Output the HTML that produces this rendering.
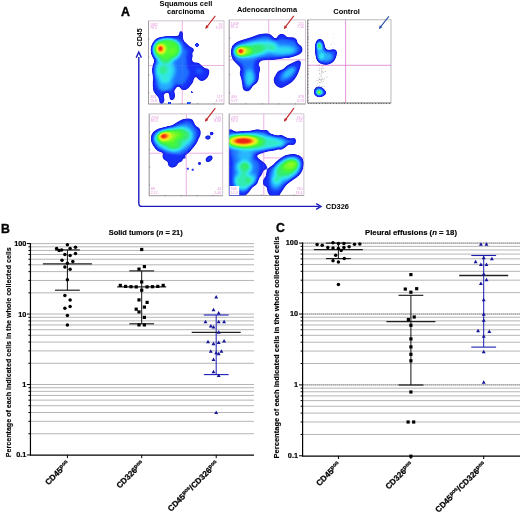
<!DOCTYPE html>
<html><head><meta charset="utf-8"><title>Figure</title>
<style>html,body{margin:0;padding:0;background:#fff}svg{display:block}</style></head>
<body>
<svg width="520" height="516" viewBox="0 0 520 516">
<rect width="520" height="516" fill="#fff"/>
<g id="panelA">
<defs>
<filter id="jet" x="-5%" y="-5%" width="110%" height="110%" color-interpolation-filters="sRGB">
<feColorMatrix in="SourceGraphic" type="matrix" values="0 0 0 1 0  0 0 0 1 0  0 0 0 1 0  0 0 0 0 1" result="g"/>
<feComponentTransfer in="g" result="col">
<feFuncR type="table" tableValues="0.071 0.073 0.075 0.076 0.078 0.081 0.083 0.085 0.088 0.090 0.092 0.095 0.101 0.107 0.113 0.120 0.131 0.142 0.153 0.165 0.179 0.193 0.196 0.196 0.196 0.224 0.252 0.301 0.436 0.571 0.706 0.820 0.935 0.985 0.993 0.996 0.976 0.956 0.931 0.907 0.882"/>
<feFuncG type="table" tableValues="0.071 0.073 0.075 0.076 0.078 0.096 0.113 0.130 0.148 0.165 0.182 0.210 0.278 0.347 0.416 0.486 0.562 0.638 0.715 0.783 0.846 0.909 0.922 0.922 0.922 0.943 0.964 0.980 0.980 0.980 0.980 0.956 0.931 0.838 0.699 0.549 0.353 0.188 0.145 0.102 0.059"/>
<feFuncB type="table" tableValues="0.784 0.809 0.833 0.858 0.882 0.897 0.911 0.926 0.940 0.954 0.969 0.981 0.986 0.991 0.996 1.000 1.000 1.000 1.000 0.983 0.955 0.927 0.793 0.632 0.471 0.373 0.275 0.191 0.167 0.142 0.118 0.118 0.118 0.108 0.092 0.078 0.078 0.077 0.071 0.065 0.059"/>
</feComponentTransfer>
<feComponentTransfer in="SourceGraphic" result="m"><feFuncA type="linear" slope="14" intercept="-1.0"/></feComponentTransfer>
<feComposite in="col" in2="m" operator="in"/>
</filter>
<filter id="b0" x="-50%" y="-50%" width="200%" height="200%" color-interpolation-filters="sRGB"><feGaussianBlur stdDeviation="0.45"/></filter>
<filter id="b1" x="-50%" y="-50%" width="200%" height="200%" color-interpolation-filters="sRGB"><feGaussianBlur stdDeviation="0.8"/></filter>
<filter id="b2" x="-50%" y="-50%" width="200%" height="200%" color-interpolation-filters="sRGB"><feGaussianBlur stdDeviation="1.4"/></filter>
<filter id="b3" x="-50%" y="-50%" width="200%" height="200%" color-interpolation-filters="sRGB"><feGaussianBlur stdDeviation="2.2"/></filter>
<filter id="b4" x="-50%" y="-50%" width="200%" height="200%" color-interpolation-filters="sRGB"><feGaussianBlur stdDeviation="3.2"/></filter>
<filter id="b5" x="-50%" y="-50%" width="200%" height="200%" color-interpolation-filters="sRGB"><feGaussianBlur stdDeviation="4.5"/></filter>
</defs>
<clipPath id="cp1"><rect x="148.5" y="20.9" width="75.5" height="83.1"/></clipPath>
<rect x="148.5" y="20.9" width="75.5" height="83.1" fill="#fff" stroke="#c4b4c4" stroke-width="0.8"/>
<g stroke="#e79ae0" stroke-width="0.7"><line x1="148.5" y1="65.5" x2="224.0" y2="65.5"/><line x1="182.3" y1="20.9" x2="182.3" y2="104.0"/></g>
<path d="M148.5 20.9L148.5 104.0L224.0 104.0" fill="none" stroke="#8c8c8c" stroke-width="0.7"/>
<g clip-path="url(#cp1)"><g filter="url(#jet)">
<path d="M153.8 42.4C154.6 41.2 155.2 39.7 156.5 38.9C157.8 38.1 159.7 37.9 161.7 37.5C163.7 37.2 166.3 37.0 168.7 36.8C171.0 36.6 173.9 36.5 175.6 36.3C177.4 36.1 178.5 36.2 179.1 35.4C179.8 34.7 179.2 32.7 179.5 31.9C179.8 31.2 180.3 31.0 180.9 31.1C181.4 31.1 182.3 31.4 182.6 32.3C182.9 33.2 182.5 34.9 182.6 36.3C182.7 37.7 182.7 39.4 183.5 40.7C184.2 42.0 185.9 43.1 187.0 44.1C188.0 45.2 188.6 46.0 189.6 46.8C190.6 47.5 192.3 47.8 193.1 48.5C193.8 49.2 194.2 50.4 193.9 51.1C193.7 51.8 191.9 52.1 191.7 52.9C191.5 53.6 192.7 54.5 192.7 55.5C192.7 56.5 191.6 57.8 191.7 59.0C191.7 60.1 192.0 61.8 193.1 62.4C194.2 63.1 196.8 62.4 198.3 63.0C199.7 63.5 200.6 65.0 201.8 65.9C202.9 66.9 204.2 68.1 205.3 68.5C206.4 69.0 207.8 68.3 208.4 68.9C209.0 69.5 209.2 70.8 209.1 72.0C209.0 73.3 208.7 75.1 207.9 76.4C207.1 77.7 205.5 79.1 204.4 79.9C203.2 80.6 201.9 80.9 200.9 80.7C199.9 80.6 199.0 79.7 198.3 79.0C197.6 78.3 197.3 76.5 196.5 76.4C195.8 76.2 194.6 77.1 193.9 78.1C193.3 79.1 193.3 81.3 192.7 82.5C192.1 83.6 191.1 84.2 190.4 85.1C189.8 86.0 189.6 86.9 188.7 87.7C187.8 88.5 186.4 89.5 185.2 89.8C184.1 90.1 182.6 90.0 181.7 89.5C180.9 89.0 180.7 87.4 180.0 86.8C179.3 86.3 178.1 85.7 177.4 86.0C176.6 86.3 176.2 87.8 175.6 88.6C175.0 89.4 174.0 89.8 173.9 90.9C173.7 91.9 174.8 93.3 174.8 94.7C174.8 96.1 174.6 98.2 173.9 99.0C173.2 99.9 171.1 100.5 170.4 99.9C169.7 99.3 169.8 96.9 169.5 95.6C169.2 94.3 169.2 92.7 168.7 92.1C168.1 91.5 166.9 91.6 166.0 92.1C165.2 92.5 163.7 93.4 163.4 94.7C163.1 96.0 164.4 98.5 164.3 99.9C164.2 101.4 163.3 102.9 162.6 103.4C161.8 103.9 160.5 103.9 159.9 103.1C159.4 102.2 159.7 99.6 159.1 98.2C158.5 96.8 157.3 95.9 156.5 94.7C155.6 93.5 154.4 92.9 153.8 91.2C153.3 89.5 153.1 86.6 153.0 84.2C152.9 81.9 153.4 79.6 153.3 77.3C153.3 74.9 152.6 72.3 152.6 70.3C152.6 68.3 153.0 66.7 153.3 65.1C153.7 63.5 154.8 62.2 154.7 60.7C154.7 59.2 153.5 57.9 153.0 56.3C152.4 54.7 151.7 52.9 151.6 51.1C151.4 49.4 151.7 47.3 152.1 45.9C152.5 44.4 153.1 43.6 153.8 42.4Z" fill="#fff" fill-opacity="0.26" filter="url(#b1)"/>
<ellipse cx="196.9" cy="45.0" rx="1.74" ry="1.74" fill="#fff" fill-opacity="0.3" filter="url(#b0)"/>
<ellipse cx="191.7" cy="92.1" rx="0.87" ry="0.87" fill="#fff" fill-opacity="0.35" filter="url(#b0)"/>
<ellipse cx="169.5" cy="102.9" rx="1.22" ry="1.22" fill="#fff" fill-opacity="0.35" filter="url(#b0)"/>
<ellipse cx="188.7" cy="102.9" rx="1.92" ry="1.05" fill="#fff" fill-opacity="0.35" filter="url(#b0)"/>
<path d="M154.7 44.1C155.9 41.9 158.2 40.2 161.7 39.3C165.2 38.3 172.4 38.3 175.6 38.6C178.8 38.8 179.4 39.1 180.9 40.7C182.3 42.2 183.4 44.7 184.3 47.6C185.3 50.5 186.0 54.9 186.4 58.1C186.9 61.3 186.4 64.5 187.0 66.8C187.5 69.1 189.4 70.3 189.6 72.0C189.7 73.8 188.6 75.5 187.8 77.3C187.1 79.0 186.4 81.2 185.2 82.5C184.1 83.8 182.5 84.8 180.9 85.1C179.3 85.4 177.4 83.5 175.6 84.2C173.9 85.0 172.4 88.3 170.4 89.5C168.4 90.6 165.5 91.5 163.4 91.2C161.4 90.9 159.5 89.8 158.2 87.7C156.9 85.7 156.0 81.9 155.6 79.0C155.2 76.1 155.4 73.2 155.6 70.3C155.7 67.4 156.6 64.5 156.5 61.6C156.3 58.7 155.0 55.8 154.7 52.9C154.4 50.0 153.6 46.4 154.7 44.1Z" fill="#fff" fill-opacity="0.14" filter="url(#b2)"/>
<ellipse cx="199.2" cy="71.2" rx="3.83" ry="2.79" fill="#fff" fill-opacity="0.1" filter="url(#b2)"/>
<ellipse cx="186.4" cy="52.0" rx="2.44" ry="3.14" fill="#fff" fill-opacity="0.08" filter="url(#b2)"/>
<ellipse cx="166.6" cy="50.2" rx="14.81" ry="12.55" fill="#fff" fill-opacity="0.25" filter="url(#b2)"/>
<ellipse cx="164.8" cy="70.3" rx="10.11" ry="12.20" fill="#fff" fill-opacity="0.25" filter="url(#b3)"/>
<ellipse cx="165.2" cy="85.1" rx="7.84" ry="6.97" fill="#fff" fill-opacity="0.12" filter="url(#b3)"/>
<ellipse cx="166.9" cy="49.0" rx="13.25" ry="10.11" fill="#fff" fill-opacity="0.27" filter="url(#b2)"/>
<ellipse cx="163.1" cy="69.9" rx="4.88" ry="4.88" fill="#fff" fill-opacity="0.15" filter="url(#b3)"/>
<ellipse cx="167.3" cy="49.4" rx="10.81" ry="7.84" fill="#fff" fill-opacity="0.06" filter="url(#b2)"/>
<ellipse cx="172.1" cy="51.5" rx="3.83" ry="3.49" fill="#fff" fill-opacity="0.08" filter="url(#b2)"/>
<ellipse cx="161.0" cy="49.0" rx="5.23" ry="5.40" fill="#fff" fill-opacity="0.4" filter="url(#b2)"/>
<ellipse cx="160.5" cy="48.7" rx="2.79" ry="3.14" fill="#fff" fill-opacity="0.5" filter="url(#b1)"/>
<ellipse cx="160.3" cy="48.5" rx="1.22" ry="1.57" fill="#fff" fill-opacity="0.7" filter="url(#b1)"/>
</g></g>
<g stroke="#e79ae0" stroke-width="0.6" stroke-opacity="0.15"><line x1="148.5" y1="65.5" x2="224.0" y2="65.5"/><line x1="182.3" y1="20.9" x2="182.3" y2="104.0"/></g>
<text x="150.1" y="25.5" text-anchor="start" font-family="Liberation Sans, Arial, sans-serif" font-size="3.6" fill="#d86cd0" fill-opacity="0.75">1882</text><text x="150.1" y="29.4" text-anchor="start" font-family="Liberation Sans, Arial, sans-serif" font-size="3.6" fill="#d86cd0" fill-opacity="0.75">78.5</text>
<text x="222.6" y="25.5" text-anchor="end" font-family="Liberation Sans, Arial, sans-serif" font-size="3.6" fill="#d86cd0" fill-opacity="0.75">76</text><text x="222.6" y="29.4" text-anchor="end" font-family="Liberation Sans, Arial, sans-serif" font-size="3.6" fill="#d86cd0" fill-opacity="0.75">3.59</text>
<text x="150.1" y="98.4" text-anchor="start" font-family="Liberation Sans, Arial, sans-serif" font-size="3.6" fill="#d86cd0" fill-opacity="0.75">364</text><text x="150.1" y="102.3" text-anchor="start" font-family="Liberation Sans, Arial, sans-serif" font-size="3.6" fill="#d86cd0" fill-opacity="0.75">15.8</text>
<text x="222.6" y="98.4" text-anchor="end" font-family="Liberation Sans, Arial, sans-serif" font-size="3.6" fill="#d86cd0" fill-opacity="0.75">117</text><text x="222.6" y="102.3" text-anchor="end" font-family="Liberation Sans, Arial, sans-serif" font-size="3.6" fill="#d86cd0" fill-opacity="0.75">4.78</text>
<line x1="148.3" y1="39.0" x2="149.7" y2="39.0" stroke="#777" stroke-width="0.5"/>
<line x1="164.9" y1="103.0" x2="164.9" y2="104.4" stroke="#777" stroke-width="0.5"/>
<line x1="148.3" y1="57.0" x2="149.7" y2="57.0" stroke="#777" stroke-width="0.5"/>
<line x1="181.3" y1="103.0" x2="181.3" y2="104.4" stroke="#777" stroke-width="0.5"/>
<line x1="148.3" y1="75.1" x2="149.7" y2="75.1" stroke="#777" stroke-width="0.5"/>
<line x1="197.7" y1="103.0" x2="197.7" y2="104.4" stroke="#777" stroke-width="0.5"/>
<line x1="148.3" y1="93.2" x2="149.7" y2="93.2" stroke="#777" stroke-width="0.5"/>
<line x1="214.2" y1="103.0" x2="214.2" y2="104.4" stroke="#777" stroke-width="0.5"/>
<line x1="215.3" y1="15.9" x2="206.0" y2="28.0" stroke="#c02626" stroke-width="1.1"/>
<path d="M205.3 29.0L206.2 25.1L208.8 27.1Z" fill="#c02626"/>
<clipPath id="cp2"><rect x="229.2" y="19.9" width="76.19999999999999" height="84.1"/></clipPath>
<rect x="229.2" y="19.9" width="76.19999999999999" height="84.1" fill="#fff" stroke="#c4b4c4" stroke-width="0.8"/>
<g stroke="#e79ae0" stroke-width="0.7"><line x1="229.2" y1="59.8" x2="305.4" y2="59.8"/><line x1="268.7" y1="19.9" x2="268.7" y2="104.0"/></g>
<path d="M229.2 19.9L229.2 104.0L305.4 104.0" fill="none" stroke="#8c8c8c" stroke-width="0.7"/>
<g clip-path="url(#cp2)"><g filter="url(#jet)">
<path d="M231.6 50.2C231.7 48.4 231.8 47.2 232.6 45.9C233.4 44.6 234.7 43.4 236.5 42.4C238.3 41.4 240.8 40.7 243.4 39.8C246.0 38.9 249.5 38.0 252.1 37.2C254.8 36.3 256.8 35.1 259.1 34.6C261.4 34.0 264.2 33.7 266.1 33.7C268.0 33.7 269.1 33.8 270.4 34.6C271.8 35.3 272.9 37.3 273.9 38.0C274.9 38.8 275.8 39.4 276.5 38.9C277.3 38.5 277.4 36.2 278.3 35.4C279.2 34.6 280.6 34.0 281.8 34.0C282.9 34.0 284.4 34.8 285.3 35.4C286.1 36.0 285.7 37.2 287.0 37.5C288.3 37.9 291.5 37.1 293.1 37.5C294.7 37.9 295.9 38.7 296.6 39.8C297.3 40.9 296.7 43.1 297.5 44.1C298.2 45.2 300.1 44.9 300.9 45.9C301.8 46.9 302.5 48.9 302.3 50.2C302.2 51.6 301.2 52.9 300.1 53.7C299.0 54.6 297.3 54.9 295.7 55.5C294.1 56.1 292.2 56.8 290.5 57.2C288.7 57.6 287.3 57.4 285.3 57.7C283.2 58.0 280.6 58.6 278.3 59.0C276.0 59.3 273.3 59.7 271.3 59.8C269.3 60.0 267.8 59.7 266.1 59.8C264.3 60.0 262.2 60.0 260.9 60.7C259.6 61.4 258.4 62.9 258.2 64.2C258.1 65.5 259.9 66.9 260.0 68.5C260.1 70.1 259.1 71.9 258.8 73.8C258.5 75.7 258.8 78.3 258.2 79.9C257.7 81.5 256.6 82.5 255.6 83.4C254.6 84.2 253.0 84.1 252.1 85.1C251.3 86.1 251.3 88.4 250.4 89.5C249.5 90.5 248.1 91.2 246.9 91.2C245.8 91.2 244.2 90.6 243.4 89.5C242.7 88.3 242.8 86.0 242.6 84.2C242.3 82.5 242.1 80.7 241.7 79.0C241.3 77.3 240.1 75.5 239.9 73.8C239.8 72.0 241.1 70.0 240.8 68.5C240.5 67.1 239.2 66.2 238.2 65.1C237.2 63.9 235.7 62.9 234.7 61.6C233.7 60.3 232.6 59.1 232.1 57.2C231.6 55.3 231.5 52.1 231.6 50.2Z" fill="#fff" fill-opacity="0.26" filter="url(#b1)"/>
<path d="M275.7 75.5C276.4 74.2 277.0 72.2 278.3 71.2C279.6 70.1 282.1 70.3 283.5 69.4C285.0 68.5 285.5 66.9 287.0 65.9C288.5 64.9 290.5 64.2 292.2 63.3C294.0 62.4 296.1 61.0 297.5 60.7C298.9 60.4 300.2 60.6 300.6 61.6C301.0 62.6 300.5 65.1 300.1 66.8C299.7 68.5 299.1 70.3 298.3 72.0C297.6 73.8 296.7 75.7 295.7 77.3C294.7 78.9 293.7 80.3 292.2 81.6C290.8 82.9 288.7 84.1 287.0 85.1C285.3 86.1 283.2 87.4 281.8 87.7C280.3 88.0 279.4 87.6 278.3 86.8C277.1 86.1 275.5 84.7 274.8 83.4C274.1 82.1 273.8 80.3 273.9 79.0C274.1 77.7 274.9 76.8 275.7 75.5Z" fill="#fff" fill-opacity="0.26" filter="url(#b1)"/>
<path d="M233.8 50.2C234.1 47.6 235.2 45.9 238.2 44.1C241.3 42.4 247.5 41.1 252.1 39.8C256.8 38.5 262.6 36.2 266.1 36.3C269.6 36.4 270.4 40.2 273.1 40.7C275.7 41.1 278.3 38.8 281.8 38.9C285.3 39.1 291.1 39.8 294.0 41.5C296.9 43.3 299.5 47.2 299.2 49.4C298.9 51.6 295.7 53.4 292.2 54.6C288.7 55.8 282.9 56.2 278.3 56.7C273.6 57.2 268.1 57.2 264.3 57.7C260.6 58.3 257.4 57.7 255.6 59.8C253.9 61.9 254.0 67.1 253.9 70.3C253.7 73.5 255.6 76.1 254.8 79.0C253.9 81.9 250.3 86.8 248.7 87.7C247.1 88.6 245.9 86.6 245.2 84.2C244.4 81.9 244.7 77.0 244.3 73.8C243.9 70.6 243.9 67.4 242.6 65.1C241.3 62.7 237.9 62.3 236.5 59.8C235.0 57.4 233.6 52.9 233.8 50.2Z" fill="#fff" fill-opacity="0.14" filter="url(#b2)"/>
<ellipse cx="287.9" cy="73.8" rx="10.46" ry="4.88" fill="#fff" fill-opacity="0.16" filter="url(#b2)" transform="rotate(-40 287.9 73.8)"/>
<ellipse cx="288.7" cy="72.9" rx="6.97" ry="3.14" fill="#fff" fill-opacity="0.14" filter="url(#b2)" transform="rotate(-40 288.7 72.9)"/>
<ellipse cx="255.6" cy="49.0" rx="21.79" ry="6.97" fill="#fff" fill-opacity="0.3" filter="url(#b3)" transform="rotate(-12 255.6 49.0)"/>
<ellipse cx="282.6" cy="50.2" rx="13.07" ry="4.53" fill="#fff" fill-opacity="0.24" filter="url(#b3)"/>
<ellipse cx="249.5" cy="78.1" rx="4.88" ry="8.37" fill="#fff" fill-opacity="0.22" filter="url(#b3)"/>
<ellipse cx="249.5" cy="50.2" rx="15.69" ry="6.27" fill="#fff" fill-opacity="0.12" filter="url(#b3)" transform="rotate(-8 249.5 50.2)"/>
<ellipse cx="243.1" cy="51.1" rx="9.06" ry="5.58" fill="#fff" fill-opacity="0.27" filter="url(#b2)"/>
<ellipse cx="241.3" cy="51.1" rx="4.88" ry="4.18" fill="#fff" fill-opacity="0.4" filter="url(#b2)"/>
<ellipse cx="240.6" cy="51.1" rx="2.61" ry="2.61" fill="#fff" fill-opacity="0.5" filter="url(#b1)"/>
<ellipse cx="240.5" cy="51.1" rx="1.22" ry="1.39" fill="#fff" fill-opacity="0.7" filter="url(#b1)"/>
</g></g>
<g stroke="#e79ae0" stroke-width="0.6" stroke-opacity="0.15"><line x1="229.2" y1="59.8" x2="305.4" y2="59.8"/><line x1="268.7" y1="19.9" x2="268.7" y2="104.0"/></g>
<text x="230.8" y="24.5" text-anchor="start" font-family="Liberation Sans, Arial, sans-serif" font-size="3.6" fill="#d86cd0" fill-opacity="0.75">1609</text><text x="230.8" y="28.4" text-anchor="start" font-family="Liberation Sans, Arial, sans-serif" font-size="3.6" fill="#d86cd0" fill-opacity="0.75">81.0</text>
<text x="304.0" y="24.5" text-anchor="end" font-family="Liberation Sans, Arial, sans-serif" font-size="3.6" fill="#d86cd0" fill-opacity="0.75">151</text><text x="304.0" y="28.4" text-anchor="end" font-family="Liberation Sans, Arial, sans-serif" font-size="3.6" fill="#d86cd0" fill-opacity="0.75">7.56</text>
<text x="230.8" y="98.4" text-anchor="start" font-family="Liberation Sans, Arial, sans-serif" font-size="3.6" fill="#d86cd0" fill-opacity="0.75">400</text><text x="230.8" y="102.3" text-anchor="start" font-family="Liberation Sans, Arial, sans-serif" font-size="3.6" fill="#d86cd0" fill-opacity="0.75">3.77</text>
<text x="304.0" y="98.4" text-anchor="end" font-family="Liberation Sans, Arial, sans-serif" font-size="3.6" fill="#d86cd0" fill-opacity="0.75">378</text><text x="304.0" y="102.3" text-anchor="end" font-family="Liberation Sans, Arial, sans-serif" font-size="3.6" fill="#d86cd0" fill-opacity="0.75">4.73</text>
<line x1="229.0" y1="38.2" x2="230.39999999999998" y2="38.2" stroke="#777" stroke-width="0.5"/>
<line x1="245.8" y1="103.0" x2="245.8" y2="104.4" stroke="#777" stroke-width="0.5"/>
<line x1="229.0" y1="56.5" x2="230.39999999999998" y2="56.5" stroke="#777" stroke-width="0.5"/>
<line x1="262.3" y1="103.0" x2="262.3" y2="104.4" stroke="#777" stroke-width="0.5"/>
<line x1="229.0" y1="74.7" x2="230.39999999999998" y2="74.7" stroke="#777" stroke-width="0.5"/>
<line x1="278.9" y1="103.0" x2="278.9" y2="104.4" stroke="#777" stroke-width="0.5"/>
<line x1="229.0" y1="93.0" x2="230.39999999999998" y2="93.0" stroke="#777" stroke-width="0.5"/>
<line x1="295.5" y1="103.0" x2="295.5" y2="104.4" stroke="#777" stroke-width="0.5"/>
<line x1="293.8" y1="15.9" x2="284.5" y2="28.2" stroke="#c02626" stroke-width="1.1"/>
<path d="M283.8 29.2L284.7 25.3L287.3 27.3Z" fill="#c02626"/>
<clipPath id="cp3"><rect x="307.7" y="19.8" width="83.30000000000001" height="83.2"/></clipPath>
<rect x="307.7" y="19.8" width="83.30000000000001" height="83.2" fill="#fff" stroke="#a8a8a8" stroke-width="0.8"/>
<g stroke="#d86cd0" stroke-width="0.7"><line x1="307.7" y1="65.3" x2="391.0" y2="65.3"/><line x1="345.6" y1="19.8" x2="345.6" y2="103.0"/></g>
<path d="M307.7 19.8L307.7 103.0L391.0 103.0" fill="none" stroke="#7a7a7a" stroke-width="0.8"/>
<g clip-path="url(#cp3)"><g filter="url(#jet)">
<path d="M316.3 42.8C316.8 41.3 317.3 39.9 318.3 39.4C319.2 38.9 321.2 39.2 322.1 40.0C323.1 40.7 323.6 42.4 324.0 43.8C324.5 45.2 324.2 47.5 325.0 48.6C325.8 49.7 327.4 50.4 328.8 50.5C330.3 50.7 332.4 49.4 333.7 49.6C334.9 49.7 336.2 50.2 336.5 51.5C336.9 52.8 336.2 55.5 335.6 57.3C334.9 59.0 334.1 60.9 332.7 62.1C331.2 63.3 328.8 64.1 326.9 64.4C325.0 64.6 322.7 64.3 321.2 63.6C319.6 62.9 318.5 61.7 317.7 60.2C316.9 58.6 316.7 56.3 316.3 54.4C316.0 52.5 315.8 50.5 315.8 48.6C315.8 46.7 315.9 44.4 316.3 42.8Z" fill="#fff" fill-opacity="0.3" filter="url(#b1)"/>
<ellipse cx="320.2" cy="52.5" rx="3.85" ry="8.65" fill="#fff" fill-opacity="0.2" filter="url(#b2)"/>
<ellipse cx="326.0" cy="56.7" rx="6.73" ry="4.81" fill="#fff" fill-opacity="0.2" filter="url(#b2)"/>
<ellipse cx="319.2" cy="45.7" rx="2.31" ry="3.46" fill="#fff" fill-opacity="0.3" filter="url(#b2)"/>
<ellipse cx="318.8" cy="44.8" rx="1.35" ry="1.73" fill="#fff" fill-opacity="0.3" filter="url(#b1)"/>
<ellipse cx="319.2" cy="46.7" rx="1.92" ry="3.08" fill="#fff" fill-opacity="0.1" filter="url(#b2)"/>
<path d="M314.4 91.9C314.4 90.7 315.0 88.8 315.8 88.0C316.6 87.2 318.1 87.0 319.2 87.1C320.4 87.2 321.6 87.7 322.7 88.6C323.8 89.6 325.9 91.7 326.0 92.8C326.0 94.0 324.2 95.1 323.1 95.7C322.0 96.4 320.4 96.8 319.2 96.7C318.0 96.6 316.6 96.1 315.8 95.3C315.0 94.5 314.4 93.1 314.4 91.9Z" fill="#fff" fill-opacity="0.32" filter="url(#b1)"/>
<ellipse cx="319.2" cy="92.1" rx="3.08" ry="2.69" fill="#fff" fill-opacity="0.4" filter="url(#b2)"/>
<ellipse cx="319.2" cy="92.3" rx="1.73" ry="1.54" fill="#fff" fill-opacity="0.5" filter="url(#b1)"/>
<ellipse cx="319.0" cy="92.3" rx="0.77" ry="0.77" fill="#fff" fill-opacity="0.4" filter="url(#b0)"/>
</g></g>
<g stroke="#e79ae0" stroke-width="0.6" stroke-opacity="0.15"><line x1="307.7" y1="65.3" x2="391.0" y2="65.3"/><line x1="345.6" y1="19.8" x2="345.6" y2="103.0"/></g>
<line x1="307.5" y1="37.9" x2="308.9" y2="37.9" stroke="#777" stroke-width="0.5"/>
<line x1="325.8" y1="102.0" x2="325.8" y2="103.4" stroke="#777" stroke-width="0.5"/>
<line x1="307.5" y1="56.0" x2="308.9" y2="56.0" stroke="#777" stroke-width="0.5"/>
<line x1="343.9" y1="102.0" x2="343.9" y2="103.4" stroke="#777" stroke-width="0.5"/>
<line x1="307.5" y1="74.1" x2="308.9" y2="74.1" stroke="#777" stroke-width="0.5"/>
<line x1="362.0" y1="102.0" x2="362.0" y2="103.4" stroke="#777" stroke-width="0.5"/>
<line x1="307.5" y1="92.1" x2="308.9" y2="92.1" stroke="#777" stroke-width="0.5"/>
<line x1="380.1" y1="102.0" x2="380.1" y2="103.4" stroke="#777" stroke-width="0.5"/>
<line x1="388.8" y1="16.3" x2="379.6" y2="28.2" stroke="#2a52a8" stroke-width="1.1"/>
<path d="M378.9 29.2L379.8 25.3L382.4 27.3Z" fill="#2a52a8"/>
<clipPath id="cp4"><rect x="149.2" y="113.9" width="73.5" height="81.79999999999998"/></clipPath>
<rect x="149.2" y="113.9" width="73.5" height="81.79999999999998" fill="#fff" stroke="#c4b4c4" stroke-width="0.8"/>
<g stroke="#e79ae0" stroke-width="0.7"><line x1="149.2" y1="153.2" x2="222.7" y2="153.2"/><line x1="186.3" y1="113.9" x2="186.3" y2="195.7"/></g>
<path d="M149.2 113.9L149.2 195.7L222.7 195.7" fill="none" stroke="#8c8c8c" stroke-width="0.7"/>
<g clip-path="url(#cp4)"><g filter="url(#jet)">
<path d="M151.2 137.9C151.4 136.1 151.8 134.1 153.0 132.7C154.1 131.2 156.2 130.0 158.2 129.2C160.2 128.3 162.8 128.0 165.2 127.4C167.5 126.8 170.1 126.6 172.1 125.7C174.2 124.8 175.6 123.2 177.4 122.2C179.1 121.2 180.9 120.2 182.6 119.6C184.3 119.0 186.2 118.7 187.8 118.7C189.4 118.7 191.2 118.9 192.2 119.6C193.2 120.3 193.3 121.9 193.9 123.1C194.5 124.2 194.9 125.8 195.7 126.6C196.4 127.3 197.6 126.8 198.3 127.4C199.0 128.0 199.7 128.9 200.0 130.0C200.4 131.2 200.7 132.9 200.4 134.4C200.1 135.9 198.9 137.3 198.3 138.8C197.6 140.2 197.4 141.7 196.5 143.1C195.7 144.6 194.2 146.0 193.1 147.5C191.9 148.9 190.7 150.7 189.6 151.8C188.4 153.0 187.1 153.6 186.1 154.4C185.1 155.3 184.2 155.9 183.5 157.1C182.7 158.2 182.6 160.5 181.7 161.4C180.9 162.3 179.1 161.6 178.2 162.3C177.4 163.0 177.5 164.9 176.5 165.8C175.5 166.6 173.5 167.5 172.1 167.5C170.8 167.5 169.4 166.8 168.7 165.8C167.9 164.8 168.5 162.4 167.8 161.4C167.1 160.4 165.2 160.5 164.3 159.7C163.4 158.8 162.7 157.3 162.6 156.2C162.4 155.0 164.2 153.6 163.4 152.7C162.7 151.8 159.7 151.8 158.2 151.0C156.7 150.1 155.7 148.8 154.7 147.5C153.7 146.2 152.7 144.7 152.1 143.1C151.5 141.5 151.1 139.6 151.2 137.9Z" fill="#fff" fill-opacity="0.26" filter="url(#b1)"/>
<ellipse cx="207.9" cy="137.5" rx="2.37" ry="1.32" fill="#fff" fill-opacity="0.5" filter="url(#b1)"/>
<ellipse cx="211.7" cy="133.5" rx="1.32" ry="1.32" fill="#fff" fill-opacity="0.5" filter="url(#b1)"/>
<ellipse cx="204.0" cy="131.8" rx="0.71" ry="0.71" fill="#fff" fill-opacity="0.5" filter="url(#b1)"/>
<ellipse cx="199.5" cy="163.5" rx="1.15" ry="1.15" fill="#fff" fill-opacity="0.5" filter="url(#b1)"/>
<ellipse cx="187.8" cy="168.7" rx="0.98" ry="0.98" fill="#fff" fill-opacity="0.5" filter="url(#b1)"/>
<ellipse cx="192.7" cy="169.8" rx="0.98" ry="0.98" fill="#fff" fill-opacity="0.5" filter="url(#b1)"/>
<ellipse cx="185.2" cy="157.9" rx="0.80" ry="0.80" fill="#fff" fill-opacity="0.5" filter="url(#b1)"/>
<ellipse cx="209.1" cy="158.8" rx="3.83" ry="2.27" fill="#fff" fill-opacity="0.3" filter="url(#b1)" transform="rotate(-40 209.1 158.8)"/>
<path d="M153.8 137.9C154.4 135.3 156.6 132.7 159.9 130.9C163.3 129.2 169.8 128.9 173.9 127.4C178.0 126.0 181.4 122.9 184.3 122.2C187.2 121.5 189.3 121.6 191.3 123.1C193.3 124.5 195.8 128.2 196.5 130.9C197.3 133.7 196.8 136.7 195.7 139.6C194.5 142.5 192.0 145.9 189.6 148.3C187.1 150.8 183.8 153.6 180.9 154.4C178.0 155.3 175.0 154.2 172.1 153.6C169.2 153.0 166.0 152.1 163.4 151.0C160.8 149.8 158.1 148.8 156.5 146.6C154.9 144.4 153.3 140.5 153.8 137.9Z" fill="#fff" fill-opacity="0.14" filter="url(#b2)"/>
<ellipse cx="175.6" cy="138.8" rx="17.43" ry="10.81" fill="#fff" fill-opacity="0.3" filter="url(#b3)" transform="rotate(-15 175.6 138.8)"/>
<ellipse cx="174.8" cy="146.9" rx="7.32" ry="4.88" fill="#fff" fill-opacity="0.2" filter="url(#b3)"/>
<ellipse cx="183.5" cy="132.7" rx="7.84" ry="6.97" fill="#fff" fill-opacity="0.12" filter="url(#b3)"/>
<ellipse cx="168.7" cy="137.0" rx="14.81" ry="7.84" fill="#fff" fill-opacity="0.22" filter="url(#b3)" transform="rotate(-10 168.7 137.0)"/>
<ellipse cx="166.0" cy="136.5" rx="10.81" ry="5.75" fill="#fff" fill-opacity="0.28" filter="url(#b3)" transform="rotate(-8 166.0 136.5)"/>
<ellipse cx="164.3" cy="136.1" rx="6.27" ry="3.83" fill="#fff" fill-opacity="0.4" filter="url(#b2)" transform="rotate(-8 164.3 136.1)"/>
<ellipse cx="163.8" cy="136.1" rx="3.83" ry="2.44" fill="#fff" fill-opacity="0.5" filter="url(#b2)" transform="rotate(-8 163.8 136.1)"/>
<ellipse cx="163.4" cy="136.1" rx="2.09" ry="1.39" fill="#fff" fill-opacity="0.6" filter="url(#b1)" transform="rotate(-8 163.4 136.1)"/>
</g></g>
<g stroke="#e79ae0" stroke-width="0.6" stroke-opacity="0.15"><line x1="149.2" y1="153.2" x2="222.7" y2="153.2"/><line x1="186.3" y1="113.9" x2="186.3" y2="195.7"/></g>
<text x="150.8" y="118.5" text-anchor="start" font-family="Liberation Sans, Arial, sans-serif" font-size="3.6" fill="#d86cd0" fill-opacity="0.75">2592</text><text x="150.8" y="122.4" text-anchor="start" font-family="Liberation Sans, Arial, sans-serif" font-size="3.6" fill="#d86cd0" fill-opacity="0.75">89.5</text>
<text x="221.3" y="118.5" text-anchor="end" font-family="Liberation Sans, Arial, sans-serif" font-size="3.6" fill="#d86cd0" fill-opacity="0.75">245</text><text x="221.3" y="122.4" text-anchor="end" font-family="Liberation Sans, Arial, sans-serif" font-size="3.6" fill="#d86cd0" fill-opacity="0.75">8.69</text>
<text x="150.8" y="190.1" text-anchor="start" font-family="Liberation Sans, Arial, sans-serif" font-size="3.6" fill="#d86cd0" fill-opacity="0.75">88</text><text x="150.8" y="194.0" text-anchor="start" font-family="Liberation Sans, Arial, sans-serif" font-size="3.6" fill="#d86cd0" fill-opacity="0.75">2.12</text>
<text x="221.3" y="190.1" text-anchor="end" font-family="Liberation Sans, Arial, sans-serif" font-size="3.6" fill="#d86cd0" fill-opacity="0.75">44</text><text x="221.3" y="194.0" text-anchor="end" font-family="Liberation Sans, Arial, sans-serif" font-size="3.6" fill="#d86cd0" fill-opacity="0.75">1.06</text>
<line x1="149.0" y1="131.7" x2="150.39999999999998" y2="131.7" stroke="#777" stroke-width="0.5"/>
<line x1="165.2" y1="194.7" x2="165.2" y2="196.1" stroke="#777" stroke-width="0.5"/>
<line x1="149.0" y1="149.5" x2="150.39999999999998" y2="149.5" stroke="#777" stroke-width="0.5"/>
<line x1="181.2" y1="194.7" x2="181.2" y2="196.1" stroke="#777" stroke-width="0.5"/>
<line x1="149.0" y1="167.2" x2="150.39999999999998" y2="167.2" stroke="#777" stroke-width="0.5"/>
<line x1="197.1" y1="194.7" x2="197.1" y2="196.1" stroke="#777" stroke-width="0.5"/>
<line x1="149.0" y1="185.0" x2="150.39999999999998" y2="185.0" stroke="#777" stroke-width="0.5"/>
<line x1="213.1" y1="194.7" x2="213.1" y2="196.1" stroke="#777" stroke-width="0.5"/>
<line x1="215.3" y1="108.1" x2="205.6" y2="120.8" stroke="#c02626" stroke-width="1.1"/>
<path d="M204.9 121.8L205.8 117.9L208.4 119.9Z" fill="#c02626"/>
<clipPath id="cp5"><rect x="229.2" y="113.9" width="74.69999999999999" height="81.5"/></clipPath>
<rect x="229.2" y="113.9" width="74.69999999999999" height="81.5" fill="#fff" stroke="#c4b4c4" stroke-width="0.8"/>
<g stroke="#e79ae0" stroke-width="0.7"><line x1="229.2" y1="153.2" x2="263.8" y2="153.2"/><line x1="263.8" y1="157.9" x2="303.9" y2="157.9"/><line x1="263.8" y1="113.9" x2="263.8" y2="195.4"/></g>
<path d="M229.2 113.9L229.2 195.4L303.9 195.4" fill="none" stroke="#8c8c8c" stroke-width="0.7"/>
<g clip-path="url(#cp5)"><g filter="url(#jet)">
<path d="M227.7 134.4C229.2 123.8 233.6 133.1 236.5 132.7C239.4 132.2 242.6 132.1 245.2 131.8C247.8 131.5 250.1 131.3 252.1 130.9C254.2 130.5 255.6 129.6 257.4 129.5C259.1 129.5 261.0 130.5 262.6 130.6C264.2 130.7 265.8 129.5 267.0 130.0C268.1 130.5 268.0 132.5 269.6 133.5C271.2 134.5 274.5 135.9 276.5 136.1C278.6 136.4 280.2 135.0 281.8 135.3C283.4 135.6 284.5 137.3 286.1 137.9C287.7 138.5 289.9 138.8 291.4 138.8C292.8 138.8 294.1 137.3 294.8 137.9C295.6 138.5 296.0 141.1 295.7 142.2C295.4 143.4 294.3 144.6 293.1 144.9C291.9 145.1 290.1 143.7 288.7 144.0C287.4 144.3 286.6 145.7 285.3 146.6C284.0 147.5 282.1 149.1 280.9 149.2C279.7 149.4 279.3 147.5 278.3 147.5C277.3 147.5 276.3 148.8 274.8 149.2C273.3 149.7 271.3 149.7 269.6 150.1C267.8 150.5 265.9 151.2 264.3 151.8C262.7 152.4 261.3 152.8 260.0 153.6C258.7 154.3 256.4 155.0 256.5 156.2C256.6 157.3 259.4 159.2 260.9 160.5C262.3 161.9 264.2 162.7 265.2 164.0C266.2 165.3 267.2 167.4 267.0 168.4C266.7 169.4 264.3 169.1 263.5 170.1C262.6 171.1 262.6 173.0 261.7 174.5C260.9 175.9 259.1 177.4 258.2 178.8C257.4 180.3 257.5 181.9 256.5 183.2C255.5 184.5 253.5 185.2 252.1 186.7C250.8 188.1 250.1 190.3 248.7 191.9C247.2 193.5 245.5 195.5 243.4 196.3C241.4 197.0 239.1 196.3 236.5 196.3C233.8 196.3 229.2 206.6 227.7 196.3C226.3 186.0 226.3 145.0 227.7 134.4Z" fill="#fff" fill-opacity="0.26" filter="url(#b1)"/>
<path d="M263.5 179.7C263.9 178.3 265.5 177.7 266.1 176.2C266.7 174.8 266.4 172.5 267.0 171.0C267.5 169.5 268.6 168.4 269.6 167.5C270.6 166.6 271.9 166.6 273.1 165.8C274.2 164.9 275.1 163.6 276.5 162.3C278.0 161.0 280.0 159.1 281.8 157.9C283.5 156.8 285.0 155.9 287.0 155.3C289.0 154.7 291.8 154.3 294.0 154.4C296.2 154.6 298.6 155.2 300.1 156.2C301.6 157.2 302.6 158.7 303.0 160.5C303.5 162.4 303.2 165.3 302.7 167.5C302.2 169.7 301.2 172.0 300.1 173.6C298.9 175.2 297.2 176.1 295.7 177.1C294.3 178.1 292.8 178.7 291.4 179.7C289.9 180.7 288.3 181.8 287.0 183.2C285.7 184.7 284.7 186.7 283.5 188.4C282.4 190.2 280.9 192.4 280.0 193.7C279.2 195.0 279.7 195.8 278.3 196.3C276.8 196.7 273.1 197.0 271.3 196.3C269.6 195.5 268.6 193.5 267.8 191.9C267.1 190.3 267.7 187.9 267.0 186.7C266.2 185.5 264.1 186.1 263.5 184.9C262.9 183.8 263.0 181.2 263.5 179.7Z" fill="#fff" fill-opacity="0.26" filter="url(#b1)"/>
<path d="M229.5 136.1C231.5 132.8 238.2 134.3 243.4 133.5C248.7 132.8 256.5 131.4 260.9 131.8C265.2 132.2 265.8 135.1 269.6 136.1C273.3 137.2 279.7 137.0 283.5 137.9C287.3 138.8 292.2 140.2 292.2 141.4C292.2 142.5 287.3 143.8 283.5 144.9C279.7 145.9 273.9 146.3 269.6 147.5C265.2 148.6 260.3 150.2 257.4 151.8C254.5 153.4 251.9 155.0 252.1 157.1C252.4 159.1 258.2 160.8 259.1 164.0C260.0 167.2 258.8 172.7 257.4 176.2C255.9 179.7 252.7 182.3 250.4 184.9C248.1 187.6 245.8 191.6 243.4 191.9C241.1 192.2 238.2 189.3 236.5 186.7C234.7 184.1 233.6 180.3 233.0 176.2C232.4 172.2 233.3 166.1 233.0 162.3C232.7 158.5 231.8 157.9 231.2 153.6C230.6 149.2 227.5 139.5 229.5 136.1Z" fill="#fff" fill-opacity="0.14" filter="url(#b2)"/>
<ellipse cx="285.3" cy="171.0" rx="16.56" ry="10.46" fill="#fff" fill-opacity="0.25" filter="url(#b3)" transform="rotate(-35 285.3 171.0)"/>
<ellipse cx="252.1" cy="142.2" rx="33.12" ry="7.67" fill="#fff" fill-opacity="0.3" filter="url(#b3)" transform="rotate(3 252.1 142.2)"/>
<ellipse cx="244.3" cy="167.5" rx="7.84" ry="7.32" fill="#fff" fill-opacity="0.32" filter="url(#b3)"/>
<ellipse cx="242.6" cy="181.5" rx="8.71" ry="8.37" fill="#fff" fill-opacity="0.32" filter="url(#b3)"/>
<ellipse cx="252.1" cy="179.7" rx="4.88" ry="5.58" fill="#fff" fill-opacity="0.22" filter="url(#b3)"/>
<ellipse cx="245.2" cy="155.3" rx="8.71" ry="5.23" fill="#fff" fill-opacity="0.15" filter="url(#b3)"/>
<ellipse cx="287.0" cy="168.4" rx="13.07" ry="8.37" fill="#fff" fill-opacity="0.3" filter="url(#b3)" transform="rotate(-30 287.0 168.4)"/>
<ellipse cx="275.7" cy="183.2" rx="5.58" ry="6.62" fill="#fff" fill-opacity="0.25" filter="url(#b3)"/>
<ellipse cx="244.3" cy="141.4" rx="20.04" ry="7.67" fill="#fff" fill-opacity="0.27" filter="url(#b3)"/>
<ellipse cx="290.5" cy="164.9" rx="9.06" ry="5.93" fill="#fff" fill-opacity="0.25" filter="url(#b3)" transform="rotate(-25 290.5 164.9)"/>
<ellipse cx="245.2" cy="166.1" rx="4.18" ry="3.83" fill="#fff" fill-opacity="0.16" filter="url(#b3)"/>
<ellipse cx="292.2" cy="164.0" rx="5.23" ry="3.49" fill="#fff" fill-opacity="0.06" filter="url(#b3)" transform="rotate(-25 292.2 164.0)"/>
<ellipse cx="243.4" cy="141.0" rx="14.81" ry="5.23" fill="#fff" fill-opacity="0.4" filter="url(#b2)"/>
<ellipse cx="243.4" cy="141.0" rx="10.81" ry="3.49" fill="#fff" fill-opacity="0.5" filter="url(#b2)"/>
<ellipse cx="243.4" cy="141.0" rx="7.32" ry="1.92" fill="#fff" fill-opacity="0.65" filter="url(#b1)"/>
</g></g>
<g stroke="#e79ae0" stroke-width="0.6" stroke-opacity="0.15"><line x1="229.2" y1="153.2" x2="263.8" y2="153.2"/><line x1="263.8" y1="157.9" x2="303.9" y2="157.9"/><line x1="263.8" y1="113.9" x2="263.8" y2="195.4"/></g>
<text x="230.8" y="118.5" text-anchor="start" font-family="Liberation Sans, Arial, sans-serif" font-size="3.6" fill="#d86cd0" fill-opacity="0.75">2471</text><text x="230.8" y="122.4" text-anchor="start" font-family="Liberation Sans, Arial, sans-serif" font-size="3.6" fill="#d86cd0" fill-opacity="0.75">59.9</text>
<text x="302.5" y="118.5" text-anchor="end" font-family="Liberation Sans, Arial, sans-serif" font-size="3.6" fill="#d86cd0" fill-opacity="0.75">310</text><text x="302.5" y="122.4" text-anchor="end" font-family="Liberation Sans, Arial, sans-serif" font-size="3.6" fill="#d86cd0" fill-opacity="0.75">7.52</text>
<text x="230.8" y="189.8" text-anchor="start" font-family="Liberation Sans, Arial, sans-serif" font-size="3.6" fill="#d86cd0" fill-opacity="0.75">506</text><text x="230.8" y="193.7" text-anchor="start" font-family="Liberation Sans, Arial, sans-serif" font-size="3.6" fill="#d86cd0" fill-opacity="0.75">12.3</text>
<text x="302.5" y="189.8" text-anchor="end" font-family="Liberation Sans, Arial, sans-serif" font-size="3.6" fill="#d86cd0" fill-opacity="0.75">760</text><text x="302.5" y="193.7" text-anchor="end" font-family="Liberation Sans, Arial, sans-serif" font-size="3.6" fill="#d86cd0" fill-opacity="0.75">18.4</text>
<line x1="229.0" y1="131.6" x2="230.39999999999998" y2="131.6" stroke="#777" stroke-width="0.5"/>
<line x1="245.4" y1="194.4" x2="245.4" y2="195.8" stroke="#777" stroke-width="0.5"/>
<line x1="229.0" y1="149.3" x2="230.39999999999998" y2="149.3" stroke="#777" stroke-width="0.5"/>
<line x1="261.7" y1="194.4" x2="261.7" y2="195.8" stroke="#777" stroke-width="0.5"/>
<line x1="229.0" y1="167.1" x2="230.39999999999998" y2="167.1" stroke="#777" stroke-width="0.5"/>
<line x1="277.9" y1="194.4" x2="277.9" y2="195.8" stroke="#777" stroke-width="0.5"/>
<line x1="229.0" y1="184.8" x2="230.39999999999998" y2="184.8" stroke="#777" stroke-width="0.5"/>
<line x1="294.2" y1="194.4" x2="294.2" y2="195.8" stroke="#777" stroke-width="0.5"/>
<line x1="294" y1="108.1" x2="284.6" y2="120.8" stroke="#c02626" stroke-width="1.1"/>
<path d="M283.9 121.8L284.8 117.9L287.4 119.8Z" fill="#c02626"/>
<rect x="229.6" y="186" width="9.6" height="9" fill="#fff"/>
<text x="230.8" y="189.8" font-family="Liberation Sans, Arial, sans-serif" font-size="3.6" fill="#d86cd0" fill-opacity="0.75">506</text><text x="230.8" y="193.7" font-family="Liberation Sans, Arial, sans-serif" font-size="3.6" fill="#d86cd0" fill-opacity="0.75">12.3</text>
<line x1="308" y1="103.6" x2="391" y2="103.6" stroke="#222" stroke-width="1" stroke-dasharray="0.6 2.2"/>
<line x1="308.2" y1="20" x2="308.2" y2="103" stroke="#555" stroke-width="0.9" stroke-dasharray="0.6 2.6"/>
<circle cx="319.2" cy="70.2" r="0.3" fill="#555"/><circle cx="319.5" cy="79.7" r="0.3" fill="#555"/><circle cx="320.4" cy="80.3" r="0.3" fill="#555"/><circle cx="319.5" cy="85.8" r="0.3" fill="#555"/><circle cx="321.9" cy="70.7" r="0.3" fill="#555"/><circle cx="327.8" cy="76.2" r="0.3" fill="#555"/><circle cx="316.3" cy="85.7" r="0.3" fill="#555"/><circle cx="322.0" cy="67.9" r="0.3" fill="#555"/><circle cx="321.8" cy="80.5" r="0.3" fill="#555"/><circle cx="317.7" cy="83.3" r="0.3" fill="#555"/><circle cx="323.3" cy="81.5" r="0.3" fill="#555"/><circle cx="321.6" cy="79.4" r="0.3" fill="#555"/><circle cx="325.4" cy="71.8" r="0.3" fill="#555"/><circle cx="321.4" cy="76.3" r="0.3" fill="#555"/><circle cx="322.3" cy="82.7" r="0.3" fill="#555"/><circle cx="316.7" cy="87.9" r="0.3" fill="#555"/><circle cx="321.5" cy="74.3" r="0.3" fill="#555"/><circle cx="316.8" cy="88.3" r="0.3" fill="#555"/><circle cx="320.2" cy="86.9" r="0.3" fill="#555"/><circle cx="322.0" cy="69.6" r="0.3" fill="#555"/><circle cx="316.1" cy="89.1" r="0.3" fill="#555"/><circle cx="322.3" cy="71.8" r="0.3" fill="#555"/><circle cx="318.9" cy="77.2" r="0.3" fill="#555"/><circle cx="321.5" cy="79.2" r="0.3" fill="#555"/><circle cx="322.9" cy="79.2" r="0.3" fill="#555"/><circle cx="317.2" cy="88.2" r="0.3" fill="#555"/><circle cx="322.6" cy="86.3" r="0.3" fill="#555"/><circle cx="321.3" cy="68.2" r="0.3" fill="#555"/><circle cx="324.0" cy="86.4" r="0.3" fill="#555"/><circle cx="319.2" cy="78.8" r="0.3" fill="#555"/><circle cx="320.8" cy="82.6" r="0.3" fill="#555"/><circle cx="324.2" cy="78.9" r="0.3" fill="#555"/><circle cx="325.1" cy="71.4" r="0.3" fill="#555"/><circle cx="320.6" cy="89.7" r="0.3" fill="#555"/><circle cx="322.4" cy="66.3" r="0.3" fill="#555"/><circle cx="319.4" cy="67.9" r="0.3" fill="#555"/><circle cx="321.6" cy="71.6" r="0.3" fill="#555"/><circle cx="317.4" cy="65.1" r="0.3" fill="#555"/><circle cx="323.4" cy="80.0" r="0.3" fill="#555"/><circle cx="321.9" cy="72.6" r="0.3" fill="#555"/><circle cx="321.8" cy="86.9" r="0.3" fill="#555"/><circle cx="318.6" cy="90.0" r="0.3" fill="#555"/><circle cx="323.7" cy="72.1" r="0.3" fill="#555"/><circle cx="323.3" cy="64.8" r="0.3" fill="#555"/><circle cx="318.9" cy="69.1" r="0.3" fill="#555"/><circle cx="323.2" cy="68.1" r="0.3" fill="#555"/><circle cx="323.2" cy="65.1" r="0.3" fill="#555"/><circle cx="317.6" cy="88.9" r="0.3" fill="#555"/><circle cx="317.4" cy="87.3" r="0.3" fill="#555"/><circle cx="322.1" cy="77.5" r="0.3" fill="#555"/><circle cx="317.7" cy="80.7" r="0.3" fill="#555"/><circle cx="318.5" cy="80.1" r="0.3" fill="#555"/><circle cx="316.7" cy="88.5" r="0.3" fill="#555"/><circle cx="319.6" cy="82.7" r="0.3" fill="#555"/><circle cx="319.3" cy="70.2" r="0.3" fill="#555"/><circle cx="326.1" cy="77.5" r="0.3" fill="#555"/><circle cx="322.6" cy="78.3" r="0.3" fill="#555"/><circle cx="320.4" cy="79.1" r="0.3" fill="#555"/><circle cx="319.6" cy="64.5" r="0.3" fill="#555"/><circle cx="319.7" cy="65.6" r="0.3" fill="#555"/><circle cx="316.8" cy="80.3" r="0.3" fill="#555"/><circle cx="321.6" cy="73.2" r="0.3" fill="#555"/><circle cx="319.8" cy="82.4" r="0.3" fill="#555"/><circle cx="321.3" cy="65.6" r="0.3" fill="#555"/><circle cx="321.5" cy="81.6" r="0.3" fill="#555"/><circle cx="320.2" cy="75.9" r="0.3" fill="#555"/><circle cx="319.3" cy="79.4" r="0.3" fill="#555"/><circle cx="322.9" cy="72.1" r="0.3" fill="#555"/><circle cx="319.3" cy="73.6" r="0.3" fill="#555"/><circle cx="319.8" cy="73.8" r="0.3" fill="#555"/><circle cx="330.2" cy="49.7" r="0.25" fill="#888"/><circle cx="321.1" cy="45.1" r="0.25" fill="#888"/><circle cx="328.4" cy="58.6" r="0.25" fill="#888"/><circle cx="331.5" cy="45.0" r="0.25" fill="#888"/><circle cx="332.5" cy="61.9" r="0.25" fill="#888"/><circle cx="329.1" cy="47.6" r="0.25" fill="#888"/><circle cx="327.6" cy="60.1" r="0.25" fill="#888"/><circle cx="333.2" cy="42.7" r="0.25" fill="#888"/><circle cx="332.2" cy="47.2" r="0.25" fill="#888"/><circle cx="325.5" cy="64.4" r="0.25" fill="#888"/><circle cx="334.9" cy="44.8" r="0.25" fill="#888"/><circle cx="330.5" cy="57.0" r="0.25" fill="#888"/><circle cx="326.2" cy="50.8" r="0.25" fill="#888"/><circle cx="334.0" cy="34.1" r="0.25" fill="#888"/><circle cx="332.0" cy="59.4" r="0.25" fill="#888"/><circle cx="333.0" cy="38.6" r="0.25" fill="#888"/><circle cx="331.9" cy="43.4" r="0.25" fill="#888"/><circle cx="333.4" cy="58.0" r="0.25" fill="#888"/><circle cx="331.3" cy="44.3" r="0.25" fill="#888"/><circle cx="326.5" cy="60.5" r="0.25" fill="#888"/>
<path d="M138.8 57 L138.8 203.2 Q138.8 206.4 142 206.4 L319 206.4" fill="none" stroke="#1c1cc0" stroke-width="1.4"/>
<path d="M136.2 57.6 L138.8 52.2 L141.4 57.6" fill="none" stroke="#1c1cc0" stroke-width="1.4" stroke-linejoin="miter"/>
<path d="M316.2 203.6 L321 206.4 L316.2 209.4" fill="none" stroke="#1c1cc0" stroke-width="1.4" stroke-linejoin="miter"/>
<text x="121" y="15.6" font-family="Liberation Sans, Arial, sans-serif" font-weight="bold" font-size="12.4" stroke="#000" stroke-width="0.35">A</text>
<text transform="translate(141.8,46.4) rotate(-90)" font-family="Liberation Sans, Arial, sans-serif" font-weight="bold" font-size="7.2" textLength="18.2" lengthAdjust="spacingAndGlyphs">CD45</text>
<text x="325.8" y="209" font-family="Liberation Sans, Arial, sans-serif" font-weight="bold" font-size="7.3" textLength="23.2" lengthAdjust="spacingAndGlyphs">CD326</text>
<text x="185.9" y="6.4" text-anchor="middle" font-family="Liberation Sans, Arial, sans-serif" font-weight="bold" font-size="7.4" textLength="53" lengthAdjust="spacingAndGlyphs">Squamous cell</text>
<text x="185.7" y="13.6" text-anchor="middle" font-family="Liberation Sans, Arial, sans-serif" font-weight="bold" font-size="7.4" textLength="37.3" lengthAdjust="spacingAndGlyphs">carcinoma</text>
<text x="267" y="12.2" text-anchor="middle" font-family="Liberation Sans, Arial, sans-serif" font-weight="bold" font-size="7.4" textLength="60" lengthAdjust="spacingAndGlyphs">Adenocarcinoma</text>
<text x="346.6" y="13.6" text-anchor="middle" font-family="Liberation Sans, Arial, sans-serif" font-weight="bold" font-size="7.4" textLength="26.7" lengthAdjust="spacingAndGlyphs">Control</text>
</g>
<g id="panelB">
<line x1="30.45" y1="433.74" x2="254" y2="433.74" stroke="#9c9c9c" stroke-width="0.75"/>
<line x1="30.45" y1="421.34" x2="254" y2="421.34" stroke="#9c9c9c" stroke-width="0.75"/>
<line x1="30.45" y1="412.53" x2="254" y2="412.53" stroke="#9c9c9c" stroke-width="0.75"/>
<line x1="30.45" y1="405.71" x2="254" y2="405.71" stroke="#9c9c9c" stroke-width="0.75"/>
<line x1="30.45" y1="400.13" x2="254" y2="400.13" stroke="#9c9c9c" stroke-width="0.75"/>
<line x1="30.45" y1="395.41" x2="254" y2="395.41" stroke="#9c9c9c" stroke-width="0.75"/>
<line x1="30.45" y1="391.33" x2="254" y2="391.33" stroke="#9c9c9c" stroke-width="0.75"/>
<line x1="30.45" y1="387.72" x2="254" y2="387.72" stroke="#9c9c9c" stroke-width="0.75"/>
<line x1="30.45" y1="384.50" x2="254" y2="384.50" stroke="#9c9c9c" stroke-width="0.75"/>
<line x1="30.45" y1="363.29" x2="254" y2="363.29" stroke="#9c9c9c" stroke-width="0.75"/>
<line x1="30.45" y1="350.89" x2="254" y2="350.89" stroke="#9c9c9c" stroke-width="0.75"/>
<line x1="30.45" y1="342.08" x2="254" y2="342.08" stroke="#9c9c9c" stroke-width="0.75"/>
<line x1="30.45" y1="335.26" x2="254" y2="335.26" stroke="#9c9c9c" stroke-width="0.75"/>
<line x1="30.45" y1="329.68" x2="254" y2="329.68" stroke="#9c9c9c" stroke-width="0.75"/>
<line x1="30.45" y1="324.96" x2="254" y2="324.96" stroke="#9c9c9c" stroke-width="0.75"/>
<line x1="30.45" y1="320.88" x2="254" y2="320.88" stroke="#9c9c9c" stroke-width="0.75"/>
<line x1="30.45" y1="317.27" x2="254" y2="317.27" stroke="#9c9c9c" stroke-width="0.75"/>
<line x1="30.45" y1="314.05" x2="254" y2="314.05" stroke="#9c9c9c" stroke-width="0.75"/>
<line x1="30.45" y1="292.84" x2="254" y2="292.84" stroke="#9c9c9c" stroke-width="0.75"/>
<line x1="30.45" y1="280.44" x2="254" y2="280.44" stroke="#9c9c9c" stroke-width="0.75"/>
<line x1="30.45" y1="271.63" x2="254" y2="271.63" stroke="#9c9c9c" stroke-width="0.75"/>
<line x1="30.45" y1="264.81" x2="254" y2="264.81" stroke="#9c9c9c" stroke-width="0.75"/>
<line x1="30.45" y1="259.23" x2="254" y2="259.23" stroke="#9c9c9c" stroke-width="0.75"/>
<line x1="30.45" y1="254.51" x2="254" y2="254.51" stroke="#9c9c9c" stroke-width="0.75"/>
<line x1="30.45" y1="250.43" x2="254" y2="250.43" stroke="#9c9c9c" stroke-width="0.75"/>
<line x1="30.45" y1="246.82" x2="254" y2="246.82" stroke="#9c9c9c" stroke-width="0.75"/>
<line x1="30.45" y1="243.60" x2="254" y2="243.60" stroke="#9c9c9c" stroke-width="0.75"/>
<line x1="26.849999999999998" y1="454.95" x2="30.45" y2="454.95" stroke="#000" stroke-width="1"/>
<line x1="28.45" y1="433.74" x2="30.45" y2="433.74" stroke="#000" stroke-width="1"/>
<line x1="28.45" y1="421.34" x2="30.45" y2="421.34" stroke="#000" stroke-width="1"/>
<line x1="28.45" y1="412.53" x2="30.45" y2="412.53" stroke="#000" stroke-width="1"/>
<line x1="28.45" y1="405.71" x2="30.45" y2="405.71" stroke="#000" stroke-width="1"/>
<line x1="28.45" y1="400.13" x2="30.45" y2="400.13" stroke="#000" stroke-width="1"/>
<line x1="28.45" y1="395.41" x2="30.45" y2="395.41" stroke="#000" stroke-width="1"/>
<line x1="28.45" y1="391.33" x2="30.45" y2="391.33" stroke="#000" stroke-width="1"/>
<line x1="28.45" y1="387.72" x2="30.45" y2="387.72" stroke="#000" stroke-width="1"/>
<line x1="26.849999999999998" y1="384.50" x2="30.45" y2="384.50" stroke="#000" stroke-width="1"/>
<line x1="28.45" y1="363.29" x2="30.45" y2="363.29" stroke="#000" stroke-width="1"/>
<line x1="28.45" y1="350.89" x2="30.45" y2="350.89" stroke="#000" stroke-width="1"/>
<line x1="28.45" y1="342.08" x2="30.45" y2="342.08" stroke="#000" stroke-width="1"/>
<line x1="28.45" y1="335.26" x2="30.45" y2="335.26" stroke="#000" stroke-width="1"/>
<line x1="28.45" y1="329.68" x2="30.45" y2="329.68" stroke="#000" stroke-width="1"/>
<line x1="28.45" y1="324.96" x2="30.45" y2="324.96" stroke="#000" stroke-width="1"/>
<line x1="28.45" y1="320.88" x2="30.45" y2="320.88" stroke="#000" stroke-width="1"/>
<line x1="28.45" y1="317.27" x2="30.45" y2="317.27" stroke="#000" stroke-width="1"/>
<line x1="26.849999999999998" y1="314.05" x2="30.45" y2="314.05" stroke="#000" stroke-width="1"/>
<line x1="28.45" y1="292.84" x2="30.45" y2="292.84" stroke="#000" stroke-width="1"/>
<line x1="28.45" y1="280.44" x2="30.45" y2="280.44" stroke="#000" stroke-width="1"/>
<line x1="28.45" y1="271.63" x2="30.45" y2="271.63" stroke="#000" stroke-width="1"/>
<line x1="28.45" y1="264.81" x2="30.45" y2="264.81" stroke="#000" stroke-width="1"/>
<line x1="28.45" y1="259.23" x2="30.45" y2="259.23" stroke="#000" stroke-width="1"/>
<line x1="28.45" y1="254.51" x2="30.45" y2="254.51" stroke="#000" stroke-width="1"/>
<line x1="28.45" y1="250.43" x2="30.45" y2="250.43" stroke="#000" stroke-width="1"/>
<line x1="28.45" y1="246.82" x2="30.45" y2="246.82" stroke="#000" stroke-width="1"/>
<line x1="26.849999999999998" y1="243.60" x2="30.45" y2="243.60" stroke="#000" stroke-width="1"/>
<line x1="30.45" y1="243.10" x2="30.45" y2="455.45" stroke="#000" stroke-width="1.2"/>
<line x1="29.849999999999998" y1="455.15" x2="254" y2="455.15" stroke="#000" stroke-width="1.25"/>
<text x="26.4" y="246.10" text-anchor="end" font-family="Liberation Sans, Arial, sans-serif" font-weight="bold" font-size="7.3" stroke="#000" stroke-width="0.2">100</text>
<text x="26.4" y="316.55" text-anchor="end" font-family="Liberation Sans, Arial, sans-serif" font-weight="bold" font-size="7.3" stroke="#000" stroke-width="0.2">10</text>
<text x="26.4" y="387.00" text-anchor="end" font-family="Liberation Sans, Arial, sans-serif" font-weight="bold" font-size="7.3" stroke="#000" stroke-width="0.2">1</text>
<text x="26.4" y="457.45" text-anchor="end" font-family="Liberation Sans, Arial, sans-serif" font-weight="bold" font-size="7.3" stroke="#000" stroke-width="0.2">0.1</text>
<text x="145.7" y="234.8" text-anchor="middle" font-family="Liberation Sans, Arial, sans-serif" font-weight="bold" font-size="7.3" stroke="#000" stroke-width="0.15" textLength="74" lengthAdjust="spacingAndGlyphs">Solid tumors (<tspan font-style="italic">n</tspan> = 21)</text>
<text transform="translate(10.7,352.2) rotate(-90)" text-anchor="middle" font-family="Liberation Sans, Arial, sans-serif" font-weight="bold" font-size="7.1" stroke="#000" stroke-width="0.15" textLength="210" lengthAdjust="spacingAndGlyphs">Percentage of each indicated cells in the whole collected cells</text>
<text x="1.0" y="232.6" font-family="Liberation Sans, Arial, sans-serif" font-weight="bold" font-size="12.3" stroke="#000" stroke-width="0.35">B</text>
<line x1="67.4" y1="249.9" x2="67.4" y2="290.2" stroke="#111" stroke-width="1"/>
<line x1="55.00000000000001" y1="249.9" x2="79.80000000000001" y2="249.9" stroke="#111" stroke-width="1.1"/>
<line x1="55.00000000000001" y1="290.2" x2="79.80000000000001" y2="290.2" stroke="#111" stroke-width="1.1"/>
<line x1="42.900000000000006" y1="263.9" x2="91.9" y2="263.9" stroke="#222" stroke-width="1.3"/>
<circle cx="67.4" cy="244.7" r="1.75" fill="#000"/>
<circle cx="75.5" cy="247.2" r="1.75" fill="#000"/>
<circle cx="70.1" cy="248.6" r="1.75" fill="#000"/>
<circle cx="56.6" cy="248.6" r="1.75" fill="#000"/>
<circle cx="59.1" cy="250.5" r="1.75" fill="#000"/>
<circle cx="61.6" cy="250.1" r="1.75" fill="#000"/>
<circle cx="64.9" cy="254.4" r="1.75" fill="#000"/>
<circle cx="75.5" cy="253.6" r="1.75" fill="#000"/>
<circle cx="70.1" cy="255.5" r="1.75" fill="#000"/>
<circle cx="62" cy="260.2" r="1.75" fill="#000"/>
<circle cx="72.8" cy="261.4" r="1.75" fill="#000"/>
<circle cx="67.4" cy="263.3" r="1.75" fill="#000"/>
<circle cx="64.9" cy="267" r="1.75" fill="#000"/>
<circle cx="70.1" cy="269.3" r="1.75" fill="#000"/>
<circle cx="67.4" cy="279.8" r="1.75" fill="#000"/>
<circle cx="64.9" cy="295.5" r="1.75" fill="#000"/>
<circle cx="70.1" cy="299.9" r="1.75" fill="#000"/>
<circle cx="70.1" cy="306.5" r="1.75" fill="#000"/>
<circle cx="64.9" cy="308.3" r="1.75" fill="#000"/>
<circle cx="67.4" cy="315.6" r="1.75" fill="#000"/>
<circle cx="67.4" cy="325.1" r="1.75" fill="#000"/>
<line x1="67.4" y1="454.95000000000005" x2="67.4" y2="458.15000000000003" stroke="#000" stroke-width="1"/>
<line x1="141.7" y1="270.9" x2="141.7" y2="323.8" stroke="#111" stroke-width="1"/>
<line x1="129.29999999999998" y1="270.9" x2="154.1" y2="270.9" stroke="#111" stroke-width="1.1"/>
<line x1="129.29999999999998" y1="323.8" x2="154.1" y2="323.8" stroke="#111" stroke-width="1.1"/>
<line x1="117.19999999999999" y1="286.9" x2="166.2" y2="286.9" stroke="#222" stroke-width="1.3"/>
<rect x="140.10" y="247.90" width="3.2" height="3.2" fill="#000"/>
<rect x="142.80" y="265.00" width="3.2" height="3.2" fill="#000"/>
<rect x="137.40" y="267.50" width="3.2" height="3.2" fill="#000"/>
<rect x="140.10" y="280.30" width="3.2" height="3.2" fill="#000"/>
<rect x="118.70" y="283.80" width="3.2" height="3.2" fill="#000"/>
<rect x="124.00" y="284.80" width="3.2" height="3.2" fill="#000"/>
<rect x="129.40" y="285.10" width="3.2" height="3.2" fill="#000"/>
<rect x="134.60" y="285.30" width="3.2" height="3.2" fill="#000"/>
<rect x="145.50" y="285.30" width="3.2" height="3.2" fill="#000"/>
<rect x="150.90" y="285.10" width="3.2" height="3.2" fill="#000"/>
<rect x="156.20" y="284.80" width="3.2" height="3.2" fill="#000"/>
<rect x="161.60" y="283.80" width="3.2" height="3.2" fill="#000"/>
<rect x="140.10" y="288.60" width="3.2" height="3.2" fill="#000"/>
<rect x="137.40" y="298.30" width="3.2" height="3.2" fill="#000"/>
<rect x="145.50" y="300.80" width="3.2" height="3.2" fill="#000"/>
<rect x="142.80" y="305.50" width="3.2" height="3.2" fill="#000"/>
<rect x="134.60" y="307.60" width="3.2" height="3.2" fill="#000"/>
<rect x="137.40" y="310.30" width="3.2" height="3.2" fill="#000"/>
<rect x="142.80" y="315.80" width="3.2" height="3.2" fill="#000"/>
<rect x="137.40" y="323.30" width="3.2" height="3.2" fill="#000"/>
<rect x="142.80" y="323.30" width="3.2" height="3.2" fill="#000"/>
<line x1="141.7" y1="454.95000000000005" x2="141.7" y2="458.15000000000003" stroke="#000" stroke-width="1"/>
<line x1="216.2" y1="315" x2="216.2" y2="374.6" stroke="#1c1cb4" stroke-width="1"/>
<line x1="203.79999999999998" y1="315" x2="228.6" y2="315" stroke="#1c1cb4" stroke-width="1.1"/>
<line x1="203.79999999999998" y1="374.6" x2="228.6" y2="374.6" stroke="#1c1cb4" stroke-width="1.1"/>
<line x1="191.7" y1="332.3" x2="240.7" y2="332.3" stroke="#222" stroke-width="1.3"/>
<path d="M214.25 298.55 L218.15 298.55 L216.20 295.00 Z" fill="#15159a"/>
<path d="M211.55 311.25 L215.45 311.25 L213.50 307.70 Z" fill="#15159a"/>
<path d="M216.75 314.55 L220.65 314.55 L218.70 311.00 Z" fill="#15159a"/>
<path d="M203.55 323.25 L207.45 323.25 L205.50 319.70 Z" fill="#15159a"/>
<path d="M216.75 323.25 L220.65 323.25 L218.70 319.70 Z" fill="#15159a"/>
<path d="M222.15 323.25 L226.05 323.25 L224.10 319.70 Z" fill="#15159a"/>
<path d="M208.85 327.55 L212.75 327.55 L210.80 324.00 Z" fill="#15159a"/>
<path d="M211.55 328.55 L215.45 328.55 L213.50 325.00 Z" fill="#15159a"/>
<path d="M216.75 333.85 L220.65 333.85 L218.70 330.30 Z" fill="#15159a"/>
<path d="M206.05 343.35 L209.95 343.35 L208.00 339.80 Z" fill="#15159a"/>
<path d="M211.55 345.15 L215.45 345.15 L213.50 341.60 Z" fill="#15159a"/>
<path d="M216.75 343.95 L220.65 343.95 L218.70 340.40 Z" fill="#15159a"/>
<path d="M222.15 342.45 L226.05 342.45 L224.10 338.90 Z" fill="#15159a"/>
<path d="M208.85 352.85 L212.75 352.85 L210.80 349.30 Z" fill="#15159a"/>
<path d="M214.25 354.25 L218.15 354.25 L216.20 350.70 Z" fill="#15159a"/>
<path d="M216.75 355.35 L220.65 355.35 L218.70 351.80 Z" fill="#15159a"/>
<path d="M219.45 352.85 L223.35 352.85 L221.40 349.30 Z" fill="#15159a"/>
<path d="M211.55 361.05 L215.45 361.05 L213.50 357.50 Z" fill="#15159a"/>
<path d="M211.55 373.25 L215.45 373.25 L213.50 369.70 Z" fill="#15159a"/>
<path d="M216.75 377.05 L220.65 377.05 L218.70 373.50 Z" fill="#15159a"/>
<path d="M214.25 413.95 L218.15 413.95 L216.20 410.40 Z" fill="#15159a"/>
<line x1="216.2" y1="454.95000000000005" x2="216.2" y2="458.15000000000003" stroke="#000" stroke-width="1"/>
<text transform="translate(70.0,464.0) rotate(-45)" text-anchor="end" font-family="Liberation Sans, Arial, sans-serif" font-weight="bold" font-size="8.2" stroke="#000" stroke-width="0.25"><tspan>CD45</tspan><tspan font-size="5.4" dy="-3.0">pos</tspan></text>
<text transform="translate(144.5,464.0) rotate(-45)" text-anchor="end" font-family="Liberation Sans, Arial, sans-serif" font-weight="bold" font-size="8.2" stroke="#000" stroke-width="0.25"><tspan>CD326</tspan><tspan font-size="5.4" dy="-3.0">pos</tspan></text>
<text transform="translate(219,464.0) rotate(-45)" text-anchor="end" font-family="Liberation Sans, Arial, sans-serif" font-weight="bold" font-size="8.2" stroke="#000" stroke-width="0.25"><tspan>CD45</tspan><tspan font-size="5.4" dy="-3.0">pos</tspan><tspan dy="3.0">/CD326</tspan><tspan font-size="5.4" dy="-3.0">pos</tspan></text>
</g>
<g id="panelC">
<line x1="302.6" y1="434.46" x2="520" y2="434.46" stroke="#9c9c9c" stroke-width="0.75"/>
<line x1="302.6" y1="421.97" x2="520" y2="421.97" stroke="#9c9c9c" stroke-width="0.75"/>
<line x1="302.6" y1="413.11" x2="520" y2="413.11" stroke="#9c9c9c" stroke-width="0.75"/>
<line x1="302.6" y1="406.24" x2="520" y2="406.24" stroke="#9c9c9c" stroke-width="0.75"/>
<line x1="302.6" y1="400.63" x2="520" y2="400.63" stroke="#9c9c9c" stroke-width="0.75"/>
<line x1="302.6" y1="395.88" x2="520" y2="395.88" stroke="#9c9c9c" stroke-width="0.75"/>
<line x1="302.6" y1="391.77" x2="520" y2="391.77" stroke="#9c9c9c" stroke-width="0.75"/>
<line x1="302.6" y1="388.14" x2="520" y2="388.14" stroke="#9c9c9c" stroke-width="0.75"/>
<line x1="302.6" y1="384.90" x2="520" y2="384.90" stroke="#111" stroke-width="1" stroke-dasharray="1 1"/>
<line x1="302.6" y1="363.56" x2="520" y2="363.56" stroke="#9c9c9c" stroke-width="0.75"/>
<line x1="302.6" y1="351.07" x2="520" y2="351.07" stroke="#9c9c9c" stroke-width="0.75"/>
<line x1="302.6" y1="342.21" x2="520" y2="342.21" stroke="#9c9c9c" stroke-width="0.75"/>
<line x1="302.6" y1="335.34" x2="520" y2="335.34" stroke="#9c9c9c" stroke-width="0.75"/>
<line x1="302.6" y1="329.73" x2="520" y2="329.73" stroke="#9c9c9c" stroke-width="0.75"/>
<line x1="302.6" y1="324.98" x2="520" y2="324.98" stroke="#9c9c9c" stroke-width="0.75"/>
<line x1="302.6" y1="320.87" x2="520" y2="320.87" stroke="#9c9c9c" stroke-width="0.75"/>
<line x1="302.6" y1="317.24" x2="520" y2="317.24" stroke="#9c9c9c" stroke-width="0.75"/>
<line x1="302.6" y1="314.00" x2="520" y2="314.00" stroke="#111" stroke-width="1" stroke-dasharray="1 1"/>
<line x1="302.6" y1="292.66" x2="520" y2="292.66" stroke="#9c9c9c" stroke-width="0.75"/>
<line x1="302.6" y1="280.17" x2="520" y2="280.17" stroke="#9c9c9c" stroke-width="0.75"/>
<line x1="302.6" y1="271.31" x2="520" y2="271.31" stroke="#9c9c9c" stroke-width="0.75"/>
<line x1="302.6" y1="264.44" x2="520" y2="264.44" stroke="#9c9c9c" stroke-width="0.75"/>
<line x1="302.6" y1="258.83" x2="520" y2="258.83" stroke="#9c9c9c" stroke-width="0.75"/>
<line x1="302.6" y1="254.08" x2="520" y2="254.08" stroke="#9c9c9c" stroke-width="0.75"/>
<line x1="302.6" y1="249.97" x2="520" y2="249.97" stroke="#9c9c9c" stroke-width="0.75"/>
<line x1="302.6" y1="246.34" x2="520" y2="246.34" stroke="#9c9c9c" stroke-width="0.75"/>
<line x1="302.6" y1="243.10" x2="520" y2="243.10" stroke="#111" stroke-width="1" stroke-dasharray="1 1"/>
<line x1="299.0" y1="455.80" x2="302.6" y2="455.80" stroke="#000" stroke-width="1"/>
<line x1="300.6" y1="434.46" x2="302.6" y2="434.46" stroke="#000" stroke-width="1"/>
<line x1="300.6" y1="421.97" x2="302.6" y2="421.97" stroke="#000" stroke-width="1"/>
<line x1="300.6" y1="413.11" x2="302.6" y2="413.11" stroke="#000" stroke-width="1"/>
<line x1="300.6" y1="406.24" x2="302.6" y2="406.24" stroke="#000" stroke-width="1"/>
<line x1="300.6" y1="400.63" x2="302.6" y2="400.63" stroke="#000" stroke-width="1"/>
<line x1="300.6" y1="395.88" x2="302.6" y2="395.88" stroke="#000" stroke-width="1"/>
<line x1="300.6" y1="391.77" x2="302.6" y2="391.77" stroke="#000" stroke-width="1"/>
<line x1="300.6" y1="388.14" x2="302.6" y2="388.14" stroke="#000" stroke-width="1"/>
<line x1="299.0" y1="384.90" x2="302.6" y2="384.90" stroke="#000" stroke-width="1"/>
<line x1="300.6" y1="363.56" x2="302.6" y2="363.56" stroke="#000" stroke-width="1"/>
<line x1="300.6" y1="351.07" x2="302.6" y2="351.07" stroke="#000" stroke-width="1"/>
<line x1="300.6" y1="342.21" x2="302.6" y2="342.21" stroke="#000" stroke-width="1"/>
<line x1="300.6" y1="335.34" x2="302.6" y2="335.34" stroke="#000" stroke-width="1"/>
<line x1="300.6" y1="329.73" x2="302.6" y2="329.73" stroke="#000" stroke-width="1"/>
<line x1="300.6" y1="324.98" x2="302.6" y2="324.98" stroke="#000" stroke-width="1"/>
<line x1="300.6" y1="320.87" x2="302.6" y2="320.87" stroke="#000" stroke-width="1"/>
<line x1="300.6" y1="317.24" x2="302.6" y2="317.24" stroke="#000" stroke-width="1"/>
<line x1="299.0" y1="314.00" x2="302.6" y2="314.00" stroke="#000" stroke-width="1"/>
<line x1="300.6" y1="292.66" x2="302.6" y2="292.66" stroke="#000" stroke-width="1"/>
<line x1="300.6" y1="280.17" x2="302.6" y2="280.17" stroke="#000" stroke-width="1"/>
<line x1="300.6" y1="271.31" x2="302.6" y2="271.31" stroke="#000" stroke-width="1"/>
<line x1="300.6" y1="264.44" x2="302.6" y2="264.44" stroke="#000" stroke-width="1"/>
<line x1="300.6" y1="258.83" x2="302.6" y2="258.83" stroke="#000" stroke-width="1"/>
<line x1="300.6" y1="254.08" x2="302.6" y2="254.08" stroke="#000" stroke-width="1"/>
<line x1="300.6" y1="249.97" x2="302.6" y2="249.97" stroke="#000" stroke-width="1"/>
<line x1="300.6" y1="246.34" x2="302.6" y2="246.34" stroke="#000" stroke-width="1"/>
<line x1="299.0" y1="243.10" x2="302.6" y2="243.10" stroke="#000" stroke-width="1"/>
<line x1="302.6" y1="242.60" x2="302.6" y2="456.30" stroke="#000" stroke-width="1.2"/>
<line x1="302.0" y1="456.00" x2="520" y2="456.00" stroke="#000" stroke-width="1.25"/>
<text x="298" y="245.30" text-anchor="end" font-family="Liberation Sans, Arial, sans-serif" font-weight="bold" font-size="7.3" stroke="#000" stroke-width="0.2">100</text>
<text x="298" y="316.20" text-anchor="end" font-family="Liberation Sans, Arial, sans-serif" font-weight="bold" font-size="7.3" stroke="#000" stroke-width="0.2">10</text>
<text x="298" y="387.10" text-anchor="end" font-family="Liberation Sans, Arial, sans-serif" font-weight="bold" font-size="7.3" stroke="#000" stroke-width="0.2">1</text>
<text x="298" y="458.00" text-anchor="end" font-family="Liberation Sans, Arial, sans-serif" font-weight="bold" font-size="7.3" stroke="#000" stroke-width="0.2">0.1</text>
<text x="411" y="234.8" text-anchor="middle" font-family="Liberation Sans, Arial, sans-serif" font-weight="bold" font-size="7.3" stroke="#000" stroke-width="0.15" textLength="92" lengthAdjust="spacingAndGlyphs">Pleural effusions (<tspan font-style="italic">n</tspan> = 18)</text>
<text transform="translate(279.2,347.4) rotate(-90)" text-anchor="middle" font-family="Liberation Sans, Arial, sans-serif" font-weight="bold" font-size="7.5" stroke="#000" stroke-width="0.15" textLength="222" lengthAdjust="spacingAndGlyphs">Percentage of each indicated cells in the whole collected cells</text>
<text x="275.9" y="231.8" font-family="Liberation Sans, Arial, sans-serif" font-weight="bold" font-size="12.3" stroke="#000" stroke-width="0.35">C</text>
<line x1="338.4" y1="243.1" x2="338.4" y2="258.6" stroke="#111" stroke-width="1"/>
<line x1="326.0" y1="243.1" x2="350.79999999999995" y2="243.1" stroke="#111" stroke-width="1.1"/>
<line x1="326.0" y1="258.6" x2="350.79999999999995" y2="258.6" stroke="#111" stroke-width="1.1"/>
<line x1="313.9" y1="249.7" x2="362.9" y2="249.7" stroke="#222" stroke-width="1.3"/>
<circle cx="333" cy="242.8" r="1.75" fill="#000"/>
<circle cx="338.4" cy="243.5" r="1.75" fill="#000"/>
<circle cx="343.9" cy="243.5" r="1.75" fill="#000"/>
<circle cx="317.1" cy="244.5" r="1.75" fill="#000"/>
<circle cx="322.2" cy="245.3" r="1.75" fill="#000"/>
<circle cx="354.5" cy="244.3" r="1.75" fill="#000"/>
<circle cx="359.8" cy="244.1" r="1.75" fill="#000"/>
<circle cx="327.8" cy="247.6" r="1.75" fill="#000"/>
<circle cx="333" cy="248" r="1.75" fill="#000"/>
<circle cx="338.4" cy="248.6" r="1.75" fill="#000"/>
<circle cx="343.9" cy="247.6" r="1.75" fill="#000"/>
<circle cx="349.1" cy="246.8" r="1.75" fill="#000"/>
<circle cx="341.2" cy="250.5" r="1.75" fill="#000"/>
<circle cx="335.7" cy="255.3" r="1.75" fill="#000"/>
<circle cx="333" cy="260.8" r="1.75" fill="#000"/>
<circle cx="338.4" cy="262.1" r="1.75" fill="#000"/>
<circle cx="344.3" cy="258.6" r="1.75" fill="#000"/>
<circle cx="338.4" cy="284.6" r="1.75" fill="#000"/>
<line x1="338.4" y1="455.8" x2="338.4" y2="459.0" stroke="#000" stroke-width="1"/>
<line x1="410.9" y1="295.3" x2="410.9" y2="385" stroke="#111" stroke-width="1"/>
<line x1="398.5" y1="295.3" x2="423.29999999999995" y2="295.3" stroke="#111" stroke-width="1.1"/>
<line x1="398.5" y1="385" x2="423.29999999999995" y2="385" stroke="#111" stroke-width="1.1"/>
<line x1="386.4" y1="321.7" x2="435.4" y2="321.7" stroke="#222" stroke-width="1.3"/>
<rect x="409.30" y="273.00" width="3.2" height="3.2" fill="#000"/>
<rect x="403.70" y="287.50" width="3.2" height="3.2" fill="#000"/>
<rect x="415.10" y="287.10" width="3.2" height="3.2" fill="#000"/>
<rect x="409.30" y="290.60" width="3.2" height="3.2" fill="#000"/>
<rect x="412.60" y="315.40" width="3.2" height="3.2" fill="#000"/>
<rect x="406.80" y="317.90" width="3.2" height="3.2" fill="#000"/>
<rect x="409.30" y="323.70" width="3.2" height="3.2" fill="#000"/>
<rect x="409.30" y="337.30" width="3.2" height="3.2" fill="#000"/>
<rect x="409.30" y="345.30" width="3.2" height="3.2" fill="#000"/>
<rect x="409.30" y="352.70" width="3.2" height="3.2" fill="#000"/>
<rect x="409.30" y="359.20" width="3.2" height="3.2" fill="#000"/>
<rect x="409.30" y="390.40" width="3.2" height="3.2" fill="#000"/>
<rect x="406.50" y="420.40" width="3.2" height="3.2" fill="#000"/>
<rect x="412.10" y="420.40" width="3.2" height="3.2" fill="#000"/>
<rect x="409.30" y="454.60" width="3.2" height="3.2" fill="#000"/>
<line x1="410.9" y1="455.8" x2="410.9" y2="459.0" stroke="#000" stroke-width="1"/>
<line x1="483.7" y1="255.5" x2="483.7" y2="347.1" stroke="#1c1cb4" stroke-width="1"/>
<line x1="471.3" y1="255.5" x2="496.09999999999997" y2="255.5" stroke="#1c1cb4" stroke-width="1.1"/>
<line x1="471.3" y1="347.1" x2="496.09999999999997" y2="347.1" stroke="#1c1cb4" stroke-width="1.1"/>
<line x1="459.2" y1="275.5" x2="508.2" y2="275.5" stroke="#222" stroke-width="1.3"/>
<path d="M478.95 245.85 L482.85 245.85 L480.90 242.30 Z" fill="#15159a"/>
<path d="M484.55 245.85 L488.45 245.85 L486.50 242.30 Z" fill="#15159a"/>
<path d="M481.75 259.35 L485.65 259.35 L483.70 255.80 Z" fill="#15159a"/>
<path d="M489.95 260.25 L493.85 260.25 L491.90 256.70 Z" fill="#15159a"/>
<path d="M473.65 263.25 L477.55 263.25 L475.60 259.70 Z" fill="#15159a"/>
<path d="M478.95 266.05 L482.85 266.05 L480.90 262.50 Z" fill="#15159a"/>
<path d="M484.55 266.05 L488.45 266.05 L486.50 262.50 Z" fill="#15159a"/>
<path d="M481.75 275.65 L485.65 275.65 L483.70 272.10 Z" fill="#15159a"/>
<path d="M484.55 281.25 L488.45 281.25 L486.50 277.70 Z" fill="#15159a"/>
<path d="M478.95 284.95 L482.85 284.95 L480.90 281.40 Z" fill="#15159a"/>
<path d="M481.75 301.25 L485.65 301.25 L483.70 297.70 Z" fill="#15159a"/>
<path d="M481.75 315.65 L485.65 315.65 L483.70 312.10 Z" fill="#15159a"/>
<path d="M481.75 321.85 L485.65 321.85 L483.70 318.30 Z" fill="#15159a"/>
<path d="M476.15 332.35 L480.05 332.35 L478.10 328.80 Z" fill="#15159a"/>
<path d="M487.35 333.05 L491.25 333.05 L489.30 329.50 Z" fill="#15159a"/>
<path d="M481.75 337.75 L485.65 337.75 L483.70 334.20 Z" fill="#15159a"/>
<path d="M481.75 353.25 L485.65 353.25 L483.70 349.70 Z" fill="#15159a"/>
<path d="M481.75 383.75 L485.65 383.75 L483.70 380.20 Z" fill="#15159a"/>
<line x1="483.7" y1="455.8" x2="483.7" y2="459.0" stroke="#000" stroke-width="1"/>
<text transform="translate(341,465.0) rotate(-45)" text-anchor="end" font-family="Liberation Sans, Arial, sans-serif" font-weight="bold" font-size="8.2" stroke="#000" stroke-width="0.25"><tspan>CD45</tspan><tspan font-size="5.4" dy="-3.0">pos</tspan></text>
<text transform="translate(413.5,465.0) rotate(-45)" text-anchor="end" font-family="Liberation Sans, Arial, sans-serif" font-weight="bold" font-size="8.2" stroke="#000" stroke-width="0.25"><tspan>CD326</tspan><tspan font-size="5.4" dy="-3.0">pos</tspan></text>
<text transform="translate(486.5,465.0) rotate(-45)" text-anchor="end" font-family="Liberation Sans, Arial, sans-serif" font-weight="bold" font-size="8.2" stroke="#000" stroke-width="0.25"><tspan>CD45</tspan><tspan font-size="5.4" dy="-3.0">pos</tspan><tspan dy="3.0">/CD326</tspan><tspan font-size="5.4" dy="-3.0">pos</tspan></text>
</g>
</svg>
</body></html>
